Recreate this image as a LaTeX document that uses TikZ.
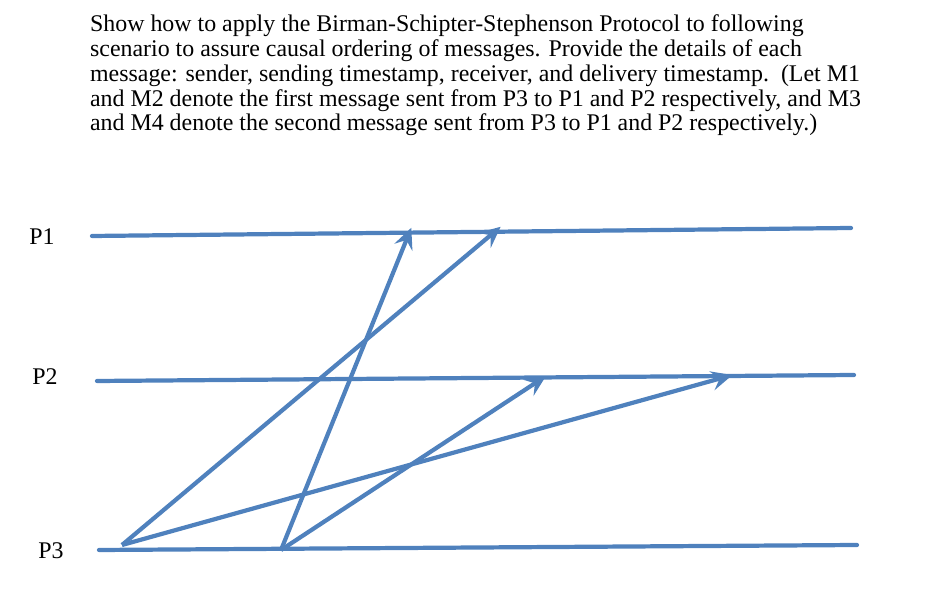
\documentclass[tikz,border=0pt]{standalone}
\usepackage{fontspec}
\setmainfont{Liberation Serif}
\usetikzlibrary{arrows.meta}
\definecolor{lineblue}{RGB}{79,129,189}

\begin{document}
\begin{tikzpicture}[x=0.02cm, y=-0.02cm, line width=2.4pt, lineblue,
    timeline/.style={draw=lineblue, line cap=round},
    msg/.style={draw=lineblue, -{Stealth[length=12pt, width=11pt, inset=4.5pt]}, shorten >=-2pt},
    plabel/.style={black, font=\fontsize{13.6}{14.2}\selectfont, inner sep=0pt}]

    \useasboundingbox (0,0) rectangle (941,597);

    % 1. Question text
    \node[anchor=base west, align=left, black, inner sep=0pt,
          font=\fontsize{13.6}{14.2}\selectfont] (question) at (88,131)
    {Show how to apply the Birman-Schipter-Stephenson Protocol to following\\
     scenario to assure causal ordering of messages. Provide the details of each\\
     message: sender, sending timestamp, receiver, and delivery timestamp.\ \ (Let M1\\
     and M2 denote the first message sent from P3 to P1 and P2 respectively, and M3\\
     and M4 denote the second message sent from P3 to P1 and P2 respectively.)};

    % 2. Define Coordinates
    \coordinate (P1s) at (92,236);
    \coordinate (P1e) at (851,228);
    \coordinate (P2s) at (97,381);
    \coordinate (P2e) at (854,375);
    \coordinate (P3s) at (99,550);
    \coordinate (P3e) at (857,545);

    \coordinate (S1) at (122,545);
    \coordinate (S2) at (281,550);
    \coordinate (M1r) at (498,229);
    \coordinate (M2r) at (729,376);
    \coordinate (M3r) at (410,231);
    \coordinate (M4r) at (543,378);

    % 3. Process lines
    \draw[timeline] (P1s) -- (P1e);
    \draw[timeline] (P2s) -- (P2e);
    \draw[timeline] (P3s) -- (P3e);

    \node[plabel] (p1) at (42,237) {P1};
    \node[plabel] (p2) at (45,377) {P2};
    \node[plabel] (p3) at (51,551) {P3};

    % 4. Messages from P3
    \draw[msg] (S1) -- (M1r);
    \draw[msg] (S1) -- (M2r);
    \draw[msg] (S2) -- (M3r);
    \draw[msg] (S2) -- (M4r);

\end{tikzpicture}
\end{document}
